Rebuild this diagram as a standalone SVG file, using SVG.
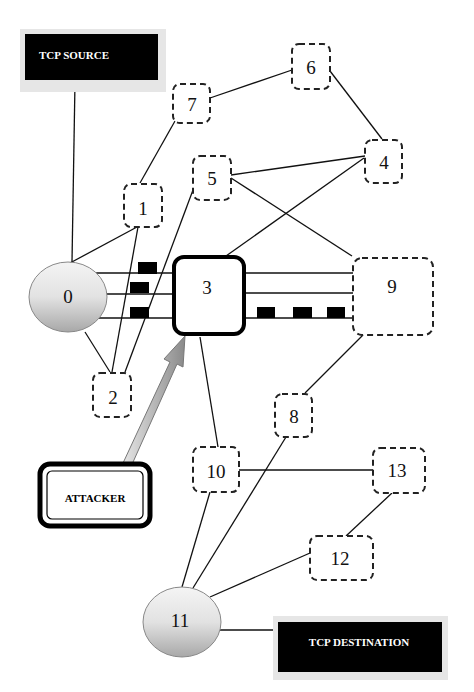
<svg xmlns="http://www.w3.org/2000/svg" width="474" height="692" viewBox="0 0 474 692">
<defs>
<linearGradient id="gball" x1="0" y1="0" x2="0" y2="1">
<stop offset="0" stop-color="#f4f4f4"/>
<stop offset="0.5" stop-color="#e2e2e2"/>
<stop offset="1" stop-color="#a8a8a8"/>
</linearGradient>
<linearGradient id="garrow" x1="0" y1="0" x2="1" y2="0">
<stop offset="0" stop-color="#eeeeee"/>
<stop offset="1" stop-color="#8a8a8a"/>
</linearGradient>
<style>
.dbox{fill:#fff;stroke:#222;stroke-width:2;stroke-dasharray:6 4}
.lbl{font-family:"Liberation Serif","Times New Roman",serif;font-size:19px;fill:#111;text-anchor:middle;dominant-baseline:central}
.tag{font-family:"Liberation Serif","Times New Roman",serif;font-size:11px;font-weight:bold;fill:#fff;text-anchor:middle;dominant-baseline:central}
.ln{stroke:#111;stroke-width:1.3;fill:none}
.pkt{fill:#000}
</style>
</defs>
<rect width="474" height="692" fill="#fff"/>
<g id="connectors">
<line class="ln" x1="75" y1="82" x2="72" y2="262"/>
<line class="ln" x1="175" y1="121" x2="140" y2="183"/>
<line class="ln" x1="210" y1="98" x2="292" y2="70"/>
<line class="ln" x1="330" y1="71" x2="382" y2="139"/>
<line class="ln" x1="231" y1="175" x2="365" y2="156"/>
<line class="ln" x1="231" y1="178" x2="352" y2="256"/>
<line class="ln" x1="364" y1="158" x2="226" y2="256"/>
<line class="ln" x1="137" y1="227" x2="70" y2="263"/>
<line class="ln" x1="138" y1="227" x2="112" y2="372"/>
<line class="ln" x1="85" y1="332" x2="110" y2="372"/>
<line class="ln" x1="193" y1="190" x2="125" y2="372"/>
<line class="ln" x1="95" y1="273" x2="172" y2="273"/>
<line class="ln" x1="107" y1="294" x2="172" y2="294"/>
<line class="ln" x1="98" y1="318" x2="172" y2="318"/>
<line class="ln" x1="245" y1="273" x2="353" y2="273"/>
<line class="ln" x1="245" y1="293" x2="353" y2="293"/>
<line class="ln" x1="245" y1="318" x2="353" y2="318"/>
<line class="ln" x1="200" y1="337" x2="218" y2="447"/>
<line class="ln" x1="363" y1="335" x2="305" y2="393"/>
<line class="ln" x1="286" y1="437" x2="193" y2="588"/>
<line class="ln" x1="239" y1="470" x2="373" y2="470"/>
<line class="ln" x1="392" y1="493" x2="346" y2="536"/>
<line class="ln" x1="210" y1="492" x2="182" y2="587"/>
<line class="ln" x1="310" y1="553" x2="210" y2="597"/>
<line class="ln" x1="220" y1="630" x2="278" y2="630"/>
<rect class="pkt" x="138" y="262" width="19" height="12"/>
<rect class="pkt" x="130" y="282" width="19" height="11"/>
<rect class="pkt" x="130" y="307" width="19" height="11"/>
<rect class="pkt" x="257" y="307" width="18" height="11"/>
<rect class="pkt" x="293" y="307" width="19" height="11"/>
<rect class="pkt" x="327" y="307" width="18" height="11"/>
<g id="attack-arrow">
<polygon points="117,476 170,362 164,359 185,336 183,367 177,364 125,480" fill="url(#garrow)" stroke="#777" stroke-width="1"/>
</g>
</g>
<g id="tcp-source">
<rect x="20" y="29" width="146" height="63" fill="#e6e6e6"/>
<rect x="25" y="34" width="133" height="46" fill="#000"/>
<text class="tag" x="74" y="55">TCP SOURCE</text>
</g>
<g id="node7"><rect class="dbox" x="173" y="84" width="37" height="39" rx="7"/><text class="lbl" x="192" y="104">7</text></g>
<g id="node6"><rect class="dbox" x="292" y="44" width="38" height="45" rx="7"/><text class="lbl" x="311" y="67">6</text></g>
<g id="node4"><rect class="dbox" x="365" y="140" width="37" height="43" rx="7"/><text class="lbl" x="384" y="162">4</text></g>
<g id="node5"><rect class="dbox" x="193" y="156" width="38" height="44" rx="7"/><text class="lbl" x="212" y="178">5</text></g>
<g id="node1"><rect class="dbox" x="124" y="184" width="38" height="43" rx="7"/><text class="lbl" x="143" y="208">1</text></g>
<g id="node2"><rect class="dbox" x="93" y="373" width="38" height="44" rx="7"/><text class="lbl" x="113" y="397">2</text></g>
<g id="node8"><rect class="dbox" x="275" y="394" width="37" height="43" rx="7"/><text class="lbl" x="294" y="416">8</text></g>
<g id="node9"><rect class="dbox" x="353" y="258" width="80" height="77" rx="9"/><text class="lbl" x="392" y="286">9</text></g>
<g id="node10"><rect class="dbox" x="193" y="447" width="46" height="45" rx="7"/><text class="lbl" x="216" y="471">10</text></g>
<g id="node13"><rect class="dbox" x="373" y="448" width="52" height="45" rx="7"/><text class="lbl" x="397" y="470">13</text></g>
<g id="node12"><rect class="dbox" x="310" y="536" width="63" height="44" rx="7"/><text class="lbl" x="340" y="558">12</text></g>
<g id="node3"><rect x="174" y="257" width="70" height="77" rx="10" fill="#fff" stroke="#000" stroke-width="4"/><text class="lbl" x="207" y="287">3</text></g>
<g id="node0"><ellipse cx="68" cy="297" rx="39" ry="35" fill="url(#gball)" stroke="#888" stroke-width="1"/><text class="lbl" x="68" y="296">0</text></g>
<g id="node11"><ellipse cx="182" cy="622" rx="39" ry="35" fill="url(#gball)" stroke="#888" stroke-width="1"/><text class="lbl" x="180" y="620">11</text></g>
<g id="attacker">
<rect x="40" y="464" width="110" height="62" rx="10" fill="#fff" stroke="#000" stroke-width="5"/>
<rect x="47" y="471" width="96" height="48" rx="5" fill="#fff" stroke="#000" stroke-width="1.2"/>
<text class="tag" x="95" y="498" style="fill:#000">ATTACKER</text>
</g>
<g id="tcp-destination">
<rect x="273" y="616" width="175" height="64" fill="#e6e6e6"/>
<rect x="278" y="622" width="164" height="50" fill="#000"/>
<text class="tag" x="359" y="642">TCP DESTINATION</text>
</g>
</svg>
